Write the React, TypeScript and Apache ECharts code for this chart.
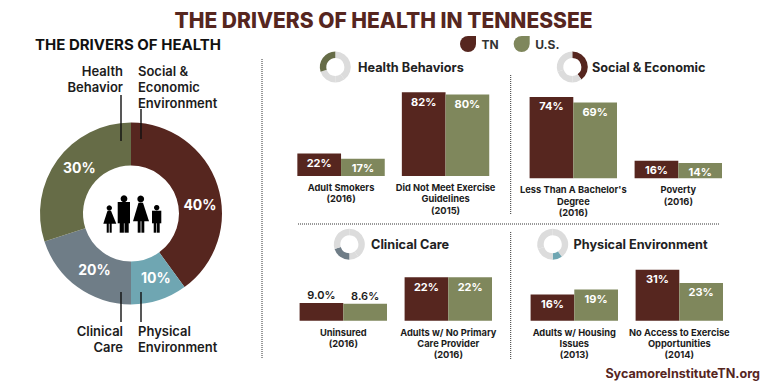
import React, { useEffect, useRef } from "react";
import * as echarts from "echarts";

const FONT = "Inter, 'Noto Sans', sans-serif";
const MAROON = "#56261f";
const OLIVE = "#7f875c";
const GREY = "#dcdcdc";
const INK = "#1c1c1c";

const driverNames = ["Social & Economic Environment", "Physical Environment", "Clinical Care", "Health Behavior"];
const driverShares = [40, 10, 20, 30];
const driverColors = [MAROON, "#6fa6b2", "#6f7d87", "#666c47"];

const healthCategories = ["Adult Smokers\n(2016)", "Did Not Meet Exercise\nGuidelines\n(2015)"];
const healthTN = [22, 82];
const healthUS = [17, 80];

const socialCategories = ["Less Than A Bachelor's\nDegree\n(2016)", "Poverty\n(2016)"];
const socialTN = [74, 16];
const socialUS = [69, 14];

const clinicalCategories = ["Uninsured\n(2016)", "Adults w/ No Primary\nCare Provider\n(2016)"];
const clinicalTN = [9.0, 22];
const clinicalUS = [8.6, 22];

const physicalCategories = ["Adults w/ Housing\nIssues\n(2013)", "No Access to Exercise\nOpportunities\n(2014)"];
const physicalTN = [16, 31];
const physicalUS = [19, 23];

const panels = [
  { title: "Health Behaviors", cats: healthCategories, tn: healthTN, us: healthUS, max: 100, left: 288.8, top: 74, h: 102, width: 209, donut: [335.3, 67], slice: 3, tx: 358, ty: 67 },
  { title: "Social & Economic", cats: socialCategories, tn: socialTN, us: socialUS, max: 100, left: 520.8, top: 68.3, h: 110, width: 210, donut: [572.3, 67], slice: 0, tx: 592, ty: 67 },
  { title: "Clinical Care", cats: clinicalCategories, tn: clinicalTN, us: clinicalUS, max: 25, left: 290.8, top: 271.2, h: 49.5, width: 210, donut: [349.3, 244.3], slice: 2, tx: 371, ty: 244 },
  { title: "Physical Environment", cats: physicalCategories, tn: physicalTN, us: physicalUS, max: 35, left: 521.8, top: 263.3, h: 57.4, width: 210, donut: [552.7, 244.3], slice: 1, tx: 573.5, ty: 244 },
];

const barData = (values: number[]) =>
  values.map((v) =>
    v < 10
      ? { value: v, label: { position: "top", distance: 2, color: INK, fontWeight: 600, formatter: v.toFixed(1) + "%" } }
      : { value: v }
  );

const txt = (text: string, x: number, y: number, fontSize: number, fontWeight: number, fill: string, align = "left", lineHeight = fontSize * 1.15) => ({
  type: "text",
  x,
  y,
  style: { text, fontSize, fontWeight, fill, fontFamily: FONT, align, verticalAlign: "middle", lineHeight },
});

const vline = (x: number, y1: number, y2: number) => ({
  type: "line",
  z: 100,
  shape: { x1: x, y1, x2: x, y2 },
  style: { stroke: "#111", lineWidth: 1.4 },
});
const dotted = (x1: number, y1: number, x2: number, y2: number) => ({
  type: "line",
  shape: { x1, y1, x2, y2 },
  style: { stroke: "#333", lineWidth: 1, lineDash: [1, 1] },
});
const fig = (cx: number, top: number, r: number) => ({ type: "circle", z: 100, shape: { cx, cy: top, r }, style: { fill: "#000" } });
const rect = (x: number, y: number, width: number, height: number) => ({ type: "rect", z: 100, shape: { x, y, width, height }, style: { fill: "#000" } });
const poly = (points: number[][]) => ({ type: "polygon", z: 100, shape: { points }, style: { fill: "#000" } });

const labelDx = [0, 2.5, 6, 7];
const labelDy = [13, -4.6, -3, -3];

export default function App() {
  const ref = useRef<HTMLDivElement>(null);
  useEffect(() => {
    document.body.style.margin = "0";
    const chart = echarts.init(ref.current!, null, { renderer: "svg" });
    const series: any[] = [];
    panels.forEach((p, i) => {
      const common = {
        type: "bar",
        xAxisIndex: i,
        yAxisIndex: i,
        barWidth: 43.7,
        barGap: 0,
        label: { show: true, position: "insideTop", distance: 4, color: "#fff", fontFamily: FONT, fontWeight: 700, fontSize: 11, formatter: "{c}%" },
      };
      series.push({ ...common, name: "TN", itemStyle: { color: MAROON }, data: barData(p.tn) });
      series.push({ ...common, name: "U.S.", itemStyle: { color: OLIVE }, data: barData(p.us) });
      series.push({
        type: "pie",
        center: p.donut,
        radius: [9, 15.5],
        startAngle: 90,
        silent: true,
        label: { show: false },
        labelLine: { show: false },
        data: driverShares.map((v, k) => ({ value: v, name: driverNames[k], itemStyle: { color: k === p.slice ? driverColors[k] : GREY } })),
      });
    });
    series.push({
      type: "pie",
      center: [131, 213.5],
      radius: [48, 91],
      startAngle: 90,
      silent: true,
      label: { show: true, position: "inside", rotate: 0, color: "#fff", fontFamily: FONT, fontWeight: 700, fontSize: 14, formatter: "{c}%" },
      labelLine: { show: false },
      labelLayout: (params: any) => ({ dx: labelDx[params.dataIndex], dy: labelDy[params.dataIndex] }),
      data: driverShares.map((v, k) => ({ value: v, name: driverNames[k], itemStyle: { color: driverColors[k] } })),
    });

    chart.setOption({
      animation: false,
      backgroundColor: "#fff",
      legend: {
        data: [{ name: "TN" }, { name: "U.S." }],
        left: 455,
        top: 31,
        itemWidth: 17,
        itemHeight: 16,
        itemGap: 15,
        selectedMode: false,
        icon: "path://M16 0L16 8A8 8 0 1 1 8 0Z",
        textStyle: { fontFamily: FONT, fontWeight: 700, fontSize: 12, color: "#333" },
      },
      grid: panels.map((p) => ({ left: p.left, top: p.top, width: p.width, height: p.h })),
      xAxis: panels.map((p, i) => ({
        type: "category",
        gridIndex: i,
        data: p.cats,
        axisLine: { show: false },
        axisTick: { show: false },
        axisLabel: { interval: 0, margin: 6, color: INK, fontFamily: FONT, fontWeight: 700, fontSize: 9.3, lineHeight: 11.3 },
      })),
      yAxis: panels.map((p, i) => ({ type: "value", gridIndex: i, show: false, min: 0, max: p.max })),
      series,
      graphic: [
        txt("THE DRIVERS OF HEALTH IN TENNESSEE", 383.5, 20, 21, 800, MAROON, "center"),
        txt("THE DRIVERS OF HEALTH", 35, 44, 15, 700, "#111"),
        txt("Health\nBehavior", 123, 79, 13, 600, INK, "right", 15.7),
        txt("Social &\nEconomic\nEnvironment", 138, 87, 13, 600, INK, "left", 15.7),
        txt("Clinical\nCare", 123, 339, 13, 600, INK, "right", 15.7),
        txt("Physical\nEnvironment", 138, 339, 13, 600, INK, "left", 15.7),
        vline(121, 95, 141),
        vline(141, 109, 139),
        vline(121, 292, 322),
        vline(141, 292, 322),
        dotted(262, 59, 262, 358),
        dotted(510.7, 75, 510.7, 215),
        dotted(510.7, 232, 510.7, 360),
        dotted(298, 224, 720, 224),
        ...panels.map((p) => txt(p.title, p.tx, p.ty, 12.7, 700, "#222")),
        txt("SycamoreInstituteTN.org", 760, 373, 12.6, 700, MAROON, "right"),
        fig(109.3, 208, 2.7),
        poly([[107.5, 210.7], [111, 210.7], [116.3, 223.7], [103.3, 223.7]]),
        rect(106.7, 223, 2.1, 9.7),
        rect(109.6, 223, 2.1, 9.7),
        fig(124, 198.7, 3.4),
        rect(117.7, 202, 12.3, 21.3),
        rect(119.7, 222, 4.2, 10.7),
        rect(124.5, 222, 4.2, 10.7),
        fig(140.7, 199, 3.4),
        poly([[138.5, 202.7], [143, 202.7], [149, 221.3], [133, 221.3]]),
        rect(137.7, 221, 2.9, 11.7),
        rect(141.4, 221, 2.9, 11.7),
        fig(156.7, 207.7, 2.7),
        rect(152, 210.7, 9.3, 12.6),
        rect(153.7, 222, 2.7, 10.7),
        rect(157, 222, 2.7, 10.7),
      ],
    });
    return () => chart.dispose();
  }, []);
  return <div ref={ref} style={{ width: 768, height: 384 }} />;
}
